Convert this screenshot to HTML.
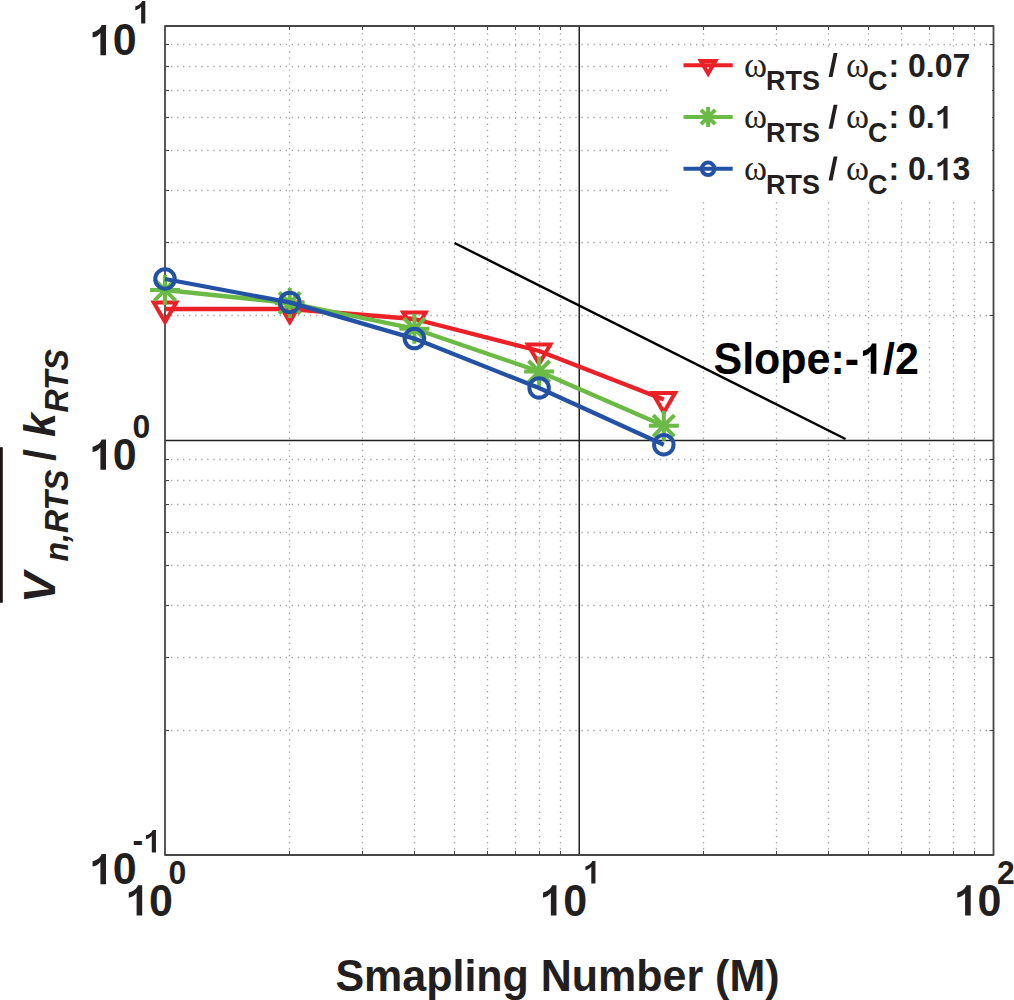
<!DOCTYPE html><html><head><meta charset="utf-8"><style>html,body{margin:0;padding:0;background:#fff;overflow:hidden}svg{display:block}text{font-family:"Liberation Sans",sans-serif;font-weight:bold;fill:#231f20}.o{fill-opacity:0}</style></head><body>
<svg width="1014" height="1000" viewBox="0 0 1014 1000">
<rect width="1014" height="1000" fill="#fff"/>
<path id="grid" d="M289.50 27.20V854.00M362.50 27.20V854.00M414.50 27.20V854.00M454.50 27.20V854.00M487.50 27.20V854.00M515.50 27.20V854.00M539.50 27.20V854.00M560.50 27.20V854.00M703.50 27.20V854.00M776.50 27.20V854.00M828.50 27.20V854.00M868.50 27.20V854.00M901.50 27.20V854.00M929.50 27.20V854.00M953.50 27.20V854.00M974.50 27.20V854.00M165.00 730.50H992.50M165.00 657.50H992.50M165.00 605.50H992.50M165.00 565.50H992.50M165.00 532.50H992.50M165.00 504.50H992.50M165.00 480.50H992.50M165.00 459.50H992.50M165.00 315.50H992.50M165.00 242.50H992.50M165.00 190.50H992.50M165.00 150.50H992.50M165.00 117.50H992.50M165.00 90.50H992.50M165.00 66.50H992.50M165.00 44.50H992.50" stroke="#a2a2a2" stroke-width="1.3" stroke-dasharray="1.3 4.735" fill="none"/>
<path id="ticks" d="M289.50 26.00v4M289.50 855.00v-4M362.50 26.00v4M362.50 855.00v-4M414.50 26.00v4M414.50 855.00v-4M454.50 26.00v4M454.50 855.00v-4M487.50 26.00v4M487.50 855.00v-4M515.50 26.00v4M515.50 855.00v-4M539.50 26.00v4M539.50 855.00v-4M560.50 26.00v4M560.50 855.00v-4M703.50 26.00v4M703.50 855.00v-4M776.50 26.00v4M776.50 855.00v-4M828.50 26.00v4M828.50 855.00v-4M868.50 26.00v4M868.50 855.00v-4M901.50 26.00v4M901.50 855.00v-4M929.50 26.00v4M929.50 855.00v-4M953.50 26.00v4M953.50 855.00v-4M974.50 26.00v4M974.50 855.00v-4M165.00 730.50h4M993.50 730.50h-4M165.00 657.50h4M993.50 657.50h-4M165.00 605.50h4M993.50 605.50h-4M165.00 565.50h4M993.50 565.50h-4M165.00 532.50h4M993.50 532.50h-4M165.00 504.50h4M993.50 504.50h-4M165.00 480.50h4M993.50 480.50h-4M165.00 459.50h4M993.50 459.50h-4M165.00 315.50h4M993.50 315.50h-4M165.00 242.50h4M993.50 242.50h-4M165.00 190.50h4M993.50 190.50h-4M165.00 150.50h4M993.50 150.50h-4M165.00 117.50h4M993.50 117.50h-4M165.00 90.50h4M993.50 90.50h-4M165.00 66.50h4M993.50 66.50h-4M165.00 44.50h4M993.50 44.50h-4" stroke="#444" stroke-width="1" fill="none"/>
<path id="major" d="M579.25 26.00V855.00M165.00 440.50H993.50" stroke="#231f20" stroke-width="1.5" fill="none"/>
<rect id="box" x="165.00" y="26.00" width="828.50" height="829.00" fill="none" stroke="#474546" stroke-width="1.8" stroke-linejoin="round"/>
<rect id="legbg" x="669" y="48" width="323" height="151" fill="#fff"/>
<path id="slopeline" d="M454.5 243L845.5 439" stroke="#000" stroke-width="2.4" fill="none"/>
<g id="ser_tri">
<polyline points="165.00,309.00 289.70,309.00 414.40,319.00 539.11,351.00 663.81,399.50" fill="none" stroke="#ec2027" stroke-width="4.3" stroke-linejoin="round"/>
<path d="M153.74 302.50H176.26L165.00 322.00Z" fill="none" stroke="#ec2027" stroke-width="4" stroke-linejoin="miter"/>
<path d="M278.44 302.50H300.96L289.70 322.00Z" fill="none" stroke="#ec2027" stroke-width="4" stroke-linejoin="miter"/>
<path d="M403.15 312.50H425.66L414.40 332.00Z" fill="none" stroke="#ec2027" stroke-width="4" stroke-linejoin="miter"/>
<path d="M527.85 344.50H550.36L539.11 364.00Z" fill="none" stroke="#ec2027" stroke-width="4" stroke-linejoin="miter"/>
<path d="M652.55 393.00H675.07L663.81 412.50Z" fill="none" stroke="#ec2027" stroke-width="4" stroke-linejoin="miter"/>
</g>
<g id="ser_ast">
<polyline points="165.00,290.00 289.70,303.00 414.40,328.70 539.11,371.50 663.81,425.80" fill="none" stroke="#6aba45" stroke-width="4.3" stroke-linejoin="round"/>
<path d="M150.00 290.00H180.00M165.00 275.00V305.00M154.39 279.39L175.61 300.61M154.39 300.61L175.61 279.39" fill="none" stroke="#6aba45" stroke-width="4"/>
<path d="M274.70 303.00H304.70M289.70 288.00V318.00M279.10 292.39L300.31 313.61M279.10 313.61L300.31 292.39" fill="none" stroke="#6aba45" stroke-width="4"/>
<path d="M399.40 328.70H429.40M414.40 313.70V343.70M403.80 318.09L425.01 339.31M403.80 339.31L425.01 318.09" fill="none" stroke="#6aba45" stroke-width="4"/>
<path d="M524.11 371.50H554.11M539.11 356.50V386.50M528.50 360.89L549.71 382.11M528.50 382.11L549.71 360.89" fill="none" stroke="#6aba45" stroke-width="4"/>
<path d="M648.81 425.80H678.81M663.81 410.80V440.80M653.20 415.19L674.41 436.41M653.20 436.41L674.41 415.19" fill="none" stroke="#6aba45" stroke-width="4"/>
</g>
<g id="ser_circ">
<polyline points="165.00,279.00 289.70,302.40 414.40,338.60 539.11,388.00 663.81,444.75" fill="none" stroke="#2352a5" stroke-width="4.3" stroke-linejoin="round"/>
<circle cx="165.00" cy="279.00" r="9.75" fill="none" stroke="#2352a5" stroke-width="4"/>
<circle cx="289.70" cy="302.40" r="9.75" fill="none" stroke="#2352a5" stroke-width="4"/>
<circle cx="414.40" cy="338.60" r="9.75" fill="none" stroke="#2352a5" stroke-width="4"/>
<circle cx="539.11" cy="388.00" r="9.75" fill="none" stroke="#2352a5" stroke-width="4"/>
<circle cx="663.81" cy="444.75" r="9.75" fill="none" stroke="#2352a5" stroke-width="4"/>
</g>
<g id="legm0">
<path d="M683.5 65.20H732.7" stroke="#ec2027" stroke-width="4" fill="none"/>
<path d="M700.83 61.00H715.37L708.10 73.60Z" fill="none" stroke="#ec2027" stroke-width="4" stroke-linejoin="miter"/>
</g>
<path id="ls0" d="M828.6 77.00H832.5L837.5 53.00H833.6Z" fill="#231f20"/>
<g id="legm1">
<path d="M683.5 117.00H732.7" stroke="#6aba45" stroke-width="4" fill="none"/>
<path d="M698.10 117.00H718.10M708.10 107.00V127.00M701.03 109.93L715.17 124.07M701.03 124.07L715.17 109.93" fill="none" stroke="#6aba45" stroke-width="4"/>
</g>
<path id="ls1" d="M828.6 128.80H832.5L837.5 104.80H833.6Z" fill="#231f20"/>
<g id="legm2">
<path d="M683.5 168.80H732.7" stroke="#2352a5" stroke-width="4" fill="none"/>
<circle cx="708.10" cy="168.80" r="6.30" fill="none" stroke="#2352a5" stroke-width="4"/>
</g>
<path id="ls2" d="M828.6 180.60H832.5L837.5 156.60H833.6Z" fill="#231f20"/>
<text id="lw0" transform="translate(744.00 76.60)" style="font-family:'Liberation Serif';font-weight:normal;font-size:35px">ω</text>
<text id="lr0" transform="translate(766.00 90.00) scale(1 1.0440)" style="font-size:27px">RTS</text>
<text id="lw20" transform="translate(846.00 76.60)" style="font-family:'Liberation Serif';font-weight:normal;font-size:35px">ω</text>
<text id="lc0" transform="translate(868.00 90.00) scale(1 1.0440)" style="font-size:27px">C</text>
<text id="lv0" transform="translate(888.50 76.60) scale(1 1.0440)" style="font-size:32px">: 0.07</text>
<text id="lw1" transform="translate(744.00 128.40)" style="font-family:'Liberation Serif';font-weight:normal;font-size:35px">ω</text>
<text id="lr1" transform="translate(766.00 141.80) scale(1 1.0440)" style="font-size:27px">RTS</text>
<text id="lw21" transform="translate(846.00 128.40)" style="font-family:'Liberation Serif';font-weight:normal;font-size:35px">ω</text>
<text id="lc1" transform="translate(868.00 141.80) scale(1 1.0440)" style="font-size:27px">C</text>
<text id="lv1" transform="translate(888.50 128.40) scale(1 1.0440)" style="font-size:32px">: 0.<tspan class="o">1</tspan></text>
<path d="M264 0H391V686H291C281 628 196 545 86 523V405C157 413 217 448 264 509Z" fill="#231f20" transform="translate(934.74 128.40) scale(0.03274 -0.03274)"/>
<text id="lw2" transform="translate(744.00 180.20)" style="font-family:'Liberation Serif';font-weight:normal;font-size:35px">ω</text>
<text id="lr2" transform="translate(766.00 193.60) scale(1 1.0440)" style="font-size:27px">RTS</text>
<text id="lw22" transform="translate(846.00 180.20)" style="font-family:'Liberation Serif';font-weight:normal;font-size:35px">ω</text>
<text id="lc2" transform="translate(868.00 193.60) scale(1 1.0440)" style="font-size:27px">C</text>
<text id="lv2" transform="translate(888.50 180.20) scale(1 1.0440)" style="font-size:32px">: 0.<tspan class="o">1</tspan>3</text>
<path d="M264 0H391V686H291C281 628 196 545 86 523V405C157 413 217 448 264 509Z" fill="#231f20" transform="translate(934.74 180.20) scale(0.03274 -0.03274)"/>
<text id="slope" transform="translate(713.50 373.80) scale(1 1.0440)" style="font-size:43px;fill:#000">Slope:-<tspan class="o">1</tspan>/2</text>
<path d="M264 0H391V686H291C281 628 196 545 86 523V405C157 413 217 448 264 509Z" fill="#000" transform="translate(859.15 373.80) scale(0.04400 -0.04400)"/>
<text id="yt0" transform="translate(88.80 55.30) scale(1 1.0440)" style="font-size:43px"><tspan class="o">1</tspan>0</text>
<path d="M264 0H391V686H291C281 628 196 545 86 523V405C157 413 217 448 264 509Z" fill="#231f20" transform="translate(88.80 55.30) scale(0.04400 -0.04400)"/>
<text id="ys0" transform="translate(132.50 23.40) scale(1 1.0440)" style="font-size:32px"><tspan class="o">1</tspan></text>
<path d="M264 0H391V686H291C281 628 196 545 86 523V405C157 413 217 448 264 509Z" fill="#231f20" transform="translate(132.50 23.40) scale(0.03274 -0.03274)"/>
<text id="yt1" transform="translate(88.80 469.80) scale(1 1.0440)" style="font-size:43px"><tspan class="o">1</tspan>0</text>
<path d="M264 0H391V686H291C281 628 196 545 86 523V405C157 413 217 448 264 509Z" fill="#231f20" transform="translate(88.80 469.80) scale(0.04400 -0.04400)"/>
<text id="ys1" transform="translate(132.50 437.90) scale(1 1.0440)" style="font-size:32px">0</text>
<text id="yt2" transform="translate(88.80 884.30) scale(1 1.0440)" style="font-size:43px"><tspan class="o">1</tspan>0</text>
<path d="M264 0H391V686H291C281 628 196 545 86 523V405C157 413 217 448 264 509Z" fill="#231f20" transform="translate(88.80 884.30) scale(0.04400 -0.04400)"/>
<text id="ys2" transform="translate(132.50 852.40) scale(1 1.0440)" style="font-size:32px">-<tspan class="o">1</tspan></text>
<path d="M264 0H391V686H291C281 628 196 545 86 523V405C157 413 217 448 264 509Z" fill="#231f20" transform="translate(143.15 852.40) scale(0.03274 -0.03274)"/>
<text id="xt0" transform="translate(125.00 915.50) scale(1 1.0440)" style="font-size:43px"><tspan class="o">1</tspan>0</text>
<path d="M264 0H391V686H291C281 628 196 545 86 523V405C157 413 217 448 264 509Z" fill="#231f20" transform="translate(125.00 915.50) scale(0.04400 -0.04400)"/>
<text id="xs0" transform="translate(168.40 883.50) scale(1 1.0440)" style="font-size:32px">0</text>
<text id="xt1" transform="translate(539.25 915.50) scale(1 1.0440)" style="font-size:43px"><tspan class="o">1</tspan>0</text>
<path d="M264 0H391V686H291C281 628 196 545 86 523V405C157 413 217 448 264 509Z" fill="#231f20" transform="translate(539.25 915.50) scale(0.04400 -0.04400)"/>
<text id="xs1" transform="translate(582.65 883.50) scale(1 1.0440)" style="font-size:32px"><tspan class="o">1</tspan></text>
<path d="M264 0H391V686H291C281 628 196 545 86 523V405C157 413 217 448 264 509Z" fill="#231f20" transform="translate(582.65 883.50) scale(0.03274 -0.03274)"/>
<text id="xt2" transform="translate(953.50 915.50) scale(1 1.0440)" style="font-size:43px"><tspan class="o">1</tspan>0</text>
<path d="M264 0H391V686H291C281 628 196 545 86 523V405C157 413 217 448 264 509Z" fill="#231f20" transform="translate(953.50 915.50) scale(0.04400 -0.04400)"/>
<text id="xs2" transform="translate(996.90 883.50) scale(1 1.0440)" style="font-size:32px">2</text>
<text id="xlabel" transform="translate(335.40 991.30) scale(1 1.0440)" style="font-size:43px">Smapling Number (M)</text>
<g id="ylabel" transform="translate(54.75 603) rotate(-90) scale(1 1.0440)">
<text id="yV" transform="scale(1.07 1)" x="0" y="0" style="font-size:43px;font-style:italic">V</text>
<text id="ysub1" x="41.5" y="13.0" style="font-size:32px;font-style:italic">n,RTS</text>
<text id="yslash" x="142" y="0" style="font-size:43px;font-weight:bold">/</text>
<text id="yk" x="166" y="0" style="font-size:43px;font-style:italic">k</text>
<text id="ysub2" x="190.5" y="13.0" style="font-size:32px;font-style:italic">RTS</text>
</g>
<rect id="overline" x="0" y="447.2" width="2.8" height="155.6" fill="#1c1412"/>
</svg></body></html>
